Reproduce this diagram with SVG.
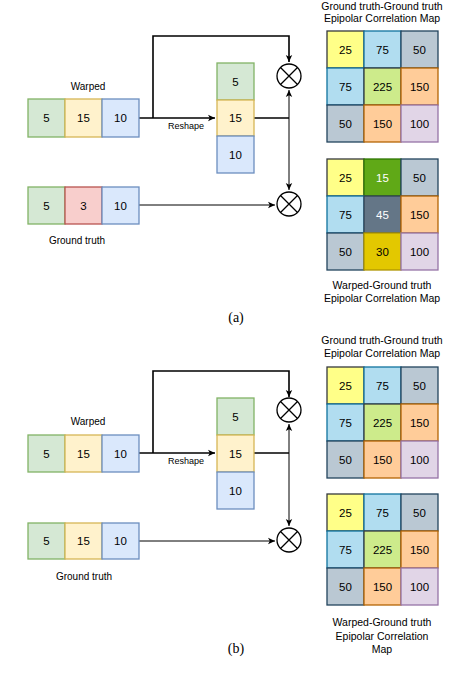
<svg xmlns="http://www.w3.org/2000/svg" width="474" height="685" viewBox="0 0 474 685">
<style>
text{font-family:"Liberation Sans",Arial,sans-serif;fill:#000;text-anchor:middle;dominant-baseline:central}
.n{font-size:11.5px}
.l{font-size:10px}
.t{font-size:10.5px}
.cap{font-family:"Liberation Serif","Times New Roman",serif;font-size:14px}
.w{fill:#fff}
.g{fill:#d5e8d4;stroke:#82b366}
.y{fill:#fff2cc;stroke:#d6b656}
.b{fill:#dae8fc;stroke:#6c8ebf}
.r{fill:#f8cecc;stroke:#b85450}
.c25{fill:#ffff88;stroke:#36393d}
.c75{fill:#b1ddf0;stroke:#10739e}
.c50{fill:#bac8d3;stroke:#23445d}
.c225{fill:#cdeb8b;stroke:#36393d}
.c150{fill:#ffcc99;stroke:#b46504}
.c100{fill:#e1d5e7;stroke:#9673a6}
.c15{fill:#60a917;stroke:#2d7600}
.c45{fill:#647687;stroke:#314354}
.c30{fill:#e3c800;stroke:#b09500}
rect{stroke-width:1.3}
.op circle{fill:#fff;stroke:#000;stroke-width:1.3}
.op path{stroke:#000;stroke-width:1.3;fill:none}
.e{fill:none;stroke:#000}
.th{stroke-width:1.6}
.tn{stroke-width:1}
</style>
<defs>
<marker id="ar" markerWidth="8" markerHeight="8" refX="7" refY="4" orient="auto" markerUnits="userSpaceOnUse">
<path d="M0,0.8 L7,4 L0,7.2 L1.8,4 Z" fill="#000"/>
</marker>
</defs>

<!-- ===== Panel (a) ===== -->
<g id="connectors-a">
<path class="e th" d="M139,118 H215" marker-end="url(#ar)"/>
<path class="e th" d="M153,118 V36 H289 V62" marker-end="url(#ar)"/>
<path class="e th" d="M254,118 H289"/>
<path class="e tn" d="M289,118 V90" marker-end="url(#ar)"/>
<path class="e tn" d="M289,118 V190" marker-end="url(#ar)"/>
<path class="e tn" d="M139,205 H275" marker-end="url(#ar)"/>
</g>
<g id="warped-a">
<rect class="g" x="28" y="99" width="37" height="38"/><text class="n" x="46.5" y="118">5</text>
<rect class="y" x="65" y="99" width="37" height="38"/><text class="n" x="83.5" y="118">15</text>
<rect class="b" x="102" y="99" width="37" height="38"/><text class="n" x="120.5" y="118">10</text>
<text class="l" x="88" y="86">Warped</text>
</g>
<g id="reshape-label-a"><text class="l" x="186" y="126" style="font-size:9px">Reshape</text></g>
<g id="stack-a">
<rect class="g" x="217" y="63" width="37" height="37"/><text class="n" x="235.5" y="81.5">5</text>
<rect class="y" x="217" y="100" width="37" height="36"/><text class="n" x="235.5" y="118">15</text>
<rect class="b" x="217" y="136" width="37" height="37"/><text class="n" x="235.5" y="154.5">10</text>
</g>
<g id="gt-a">
<rect class="g" x="28" y="187" width="37" height="37"/><text class="n" x="46.5" y="205.5">5</text>
<rect class="r" x="65" y="187" width="37" height="37"/><text class="n" x="83.5" y="205.5">3</text>
<rect class="b" x="102" y="187" width="37" height="37"/><text class="n" x="120.5" y="205.5">10</text>
<text class="l" x="77" y="240">Ground truth</text>
</g>
<g id="mul1-a" class="op"><circle cx="289" cy="76" r="12"/><path d="M280.5,67.5 L297.5,84.5 M297.5,67.5 L280.5,84.5"/></g>
<g id="mul2-a" class="op"><circle cx="289" cy="204" r="12"/><path d="M280.5,195.5 L297.5,212.5 M297.5,195.5 L280.5,212.5"/></g>
<g id="map-gg-a">
<text class="t" x="382" y="6">Ground truth-Ground truth</text>
<text class="t" x="382" y="18">Epipolar Correlation Map</text>
<rect class="c25" x="327" y="31" width="37" height="37"/><text class="n" x="345.5" y="49.5">25</text>
<rect class="c75" x="364" y="31" width="37" height="37"/><text class="n" x="382.5" y="49.5">75</text>
<rect class="c50" x="401" y="31" width="37" height="37"/><text class="n" x="419.5" y="49.5">50</text>
<rect class="c75" x="327" y="68" width="37" height="37"/><text class="n" x="345.5" y="86.5">75</text>
<rect class="c225" x="364" y="68" width="37" height="37"/><text class="n" x="382.5" y="86.5">225</text>
<rect class="c150" x="401" y="68" width="37" height="37"/><text class="n" x="419.5" y="86.5">150</text>
<rect class="c50" x="327" y="105" width="37" height="37"/><text class="n" x="345.5" y="123.5">50</text>
<rect class="c150" x="364" y="105" width="37" height="37"/><text class="n" x="382.5" y="123.5">150</text>
<rect class="c100" x="401" y="105" width="37" height="37"/><text class="n" x="419.5" y="123.5">100</text>
</g>
<g id="map-wg-a">
<rect class="c25" x="327" y="159" width="37" height="37"/><text class="n" x="345.5" y="177.5">25</text>
<rect class="c15" x="364" y="159" width="37" height="37"/><text class="n w" x="382.5" y="177.5">15</text>
<rect class="c50" x="401" y="159" width="37" height="37"/><text class="n" x="419.5" y="177.5">50</text>
<rect class="c75" x="327" y="196" width="37" height="37"/><text class="n" x="345.5" y="214.5">75</text>
<rect class="c45" x="364" y="196" width="37" height="37"/><text class="n w" x="382.5" y="214.5">45</text>
<rect class="c150" x="401" y="196" width="37" height="37"/><text class="n" x="419.5" y="214.5">150</text>
<rect class="c50" x="327" y="233" width="37" height="37"/><text class="n" x="345.5" y="251.5">50</text>
<rect class="c30" x="364" y="233" width="37" height="37"/><text class="n" x="382.5" y="251.5">30</text>
<rect class="c100" x="401" y="233" width="37" height="37"/><text class="n" x="419.5" y="251.5">100</text>
<text class="t" x="382" y="285">Warped-Ground truth</text>
<text class="t" x="382" y="298">Epipolar Correlation Map</text>
</g>
<g id="label-a"><text class="cap" x="236" y="317">(a)</text></g>

<!-- ===== Panel (b) ===== -->
<g id="connectors-b">
<path class="e th" d="M139,453 H215" marker-end="url(#ar)"/>
<path class="e th" d="M153,453 V371 H289 V397" marker-end="url(#ar)"/>
<path class="e th" d="M254,453 H289"/>
<path class="e tn" d="M289,453 V424" marker-end="url(#ar)"/>
<path class="e tn" d="M289,453 V526" marker-end="url(#ar)"/>
<path class="e tn" d="M139,541 H275" marker-end="url(#ar)"/>
</g>
<g id="warped-b">
<rect class="g" x="28" y="435" width="37" height="37"/><text class="n" x="46.5" y="453.5">5</text>
<rect class="y" x="65" y="435" width="37" height="37"/><text class="n" x="83.5" y="453.5">15</text>
<rect class="b" x="102" y="435" width="37" height="37"/><text class="n" x="120.5" y="453.5">10</text>
<text class="l" x="88" y="421">Warped</text>
</g>
<g id="reshape-label-b"><text class="l" x="186" y="461" style="font-size:9px">Reshape</text></g>
<g id="stack-b">
<rect class="g" x="217" y="398" width="37" height="37"/><text class="n" x="235.5" y="416.5">5</text>
<rect class="y" x="217" y="435" width="37" height="37"/><text class="n" x="235.5" y="453.5">15</text>
<rect class="b" x="217" y="472" width="37" height="37"/><text class="n" x="235.5" y="490.5">10</text>
</g>
<g id="gt-b">
<rect class="g" x="28" y="523" width="37" height="36"/><text class="n" x="46.5" y="541">5</text>
<rect class="y" x="65" y="523" width="37" height="36"/><text class="n" x="83.5" y="541">15</text>
<rect class="b" x="102" y="523" width="37" height="36"/><text class="n" x="120.5" y="541">10</text>
<text class="l" x="84" y="576">Ground truth</text>
</g>
<g id="mul1-b" class="op"><circle cx="289" cy="410" r="12"/><path d="M280.5,401.5 L297.5,418.5 M297.5,401.5 L280.5,418.5"/></g>
<g id="mul2-b" class="op"><circle cx="289" cy="540" r="12"/><path d="M280.5,531.5 L297.5,548.5 M297.5,531.5 L280.5,548.5"/></g>
<g id="map-gg-b">
<text class="t" x="382" y="340">Ground truth-Ground truth</text>
<text class="t" x="382" y="353">Epipolar Correlation Map</text>
<rect class="c25" x="327" y="367" width="37" height="37"/><text class="n" x="345.5" y="385.5">25</text>
<rect class="c75" x="364" y="367" width="37" height="37"/><text class="n" x="382.5" y="385.5">75</text>
<rect class="c50" x="401" y="367" width="37" height="37"/><text class="n" x="419.5" y="385.5">50</text>
<rect class="c75" x="327" y="404" width="37" height="37"/><text class="n" x="345.5" y="422.5">75</text>
<rect class="c225" x="364" y="404" width="37" height="37"/><text class="n" x="382.5" y="422.5">225</text>
<rect class="c150" x="401" y="404" width="37" height="37"/><text class="n" x="419.5" y="422.5">150</text>
<rect class="c50" x="327" y="441" width="37" height="37"/><text class="n" x="345.5" y="459.5">50</text>
<rect class="c150" x="364" y="441" width="37" height="37"/><text class="n" x="382.5" y="459.5">150</text>
<rect class="c100" x="401" y="441" width="37" height="37"/><text class="n" x="419.5" y="459.5">100</text>
</g>
<g id="map-wg-b">
<rect class="c25" x="327" y="494" width="37" height="37"/><text class="n" x="345.5" y="512.5">25</text>
<rect class="c75" x="364" y="494" width="37" height="37"/><text class="n" x="382.5" y="512.5">75</text>
<rect class="c50" x="401" y="494" width="37" height="37"/><text class="n" x="419.5" y="512.5">50</text>
<rect class="c75" x="327" y="531" width="37" height="37"/><text class="n" x="345.5" y="549.5">75</text>
<rect class="c225" x="364" y="531" width="37" height="37"/><text class="n" x="382.5" y="549.5">225</text>
<rect class="c150" x="401" y="531" width="37" height="37"/><text class="n" x="419.5" y="549.5">150</text>
<rect class="c50" x="327" y="568" width="37" height="37"/><text class="n" x="345.5" y="586.5">50</text>
<rect class="c150" x="364" y="568" width="37" height="37"/><text class="n" x="382.5" y="586.5">150</text>
<rect class="c100" x="401" y="568" width="37" height="37"/><text class="n" x="419.5" y="586.5">100</text>
<text class="t" x="382" y="622">Warped-Ground truth</text>
<text class="t" x="382" y="636">Epipolar Correlation</text>
<text class="t" x="382" y="649">Map</text>
</g>
<g id="label-b"><text class="cap" x="236" y="648">(b)</text></g>
</svg>
